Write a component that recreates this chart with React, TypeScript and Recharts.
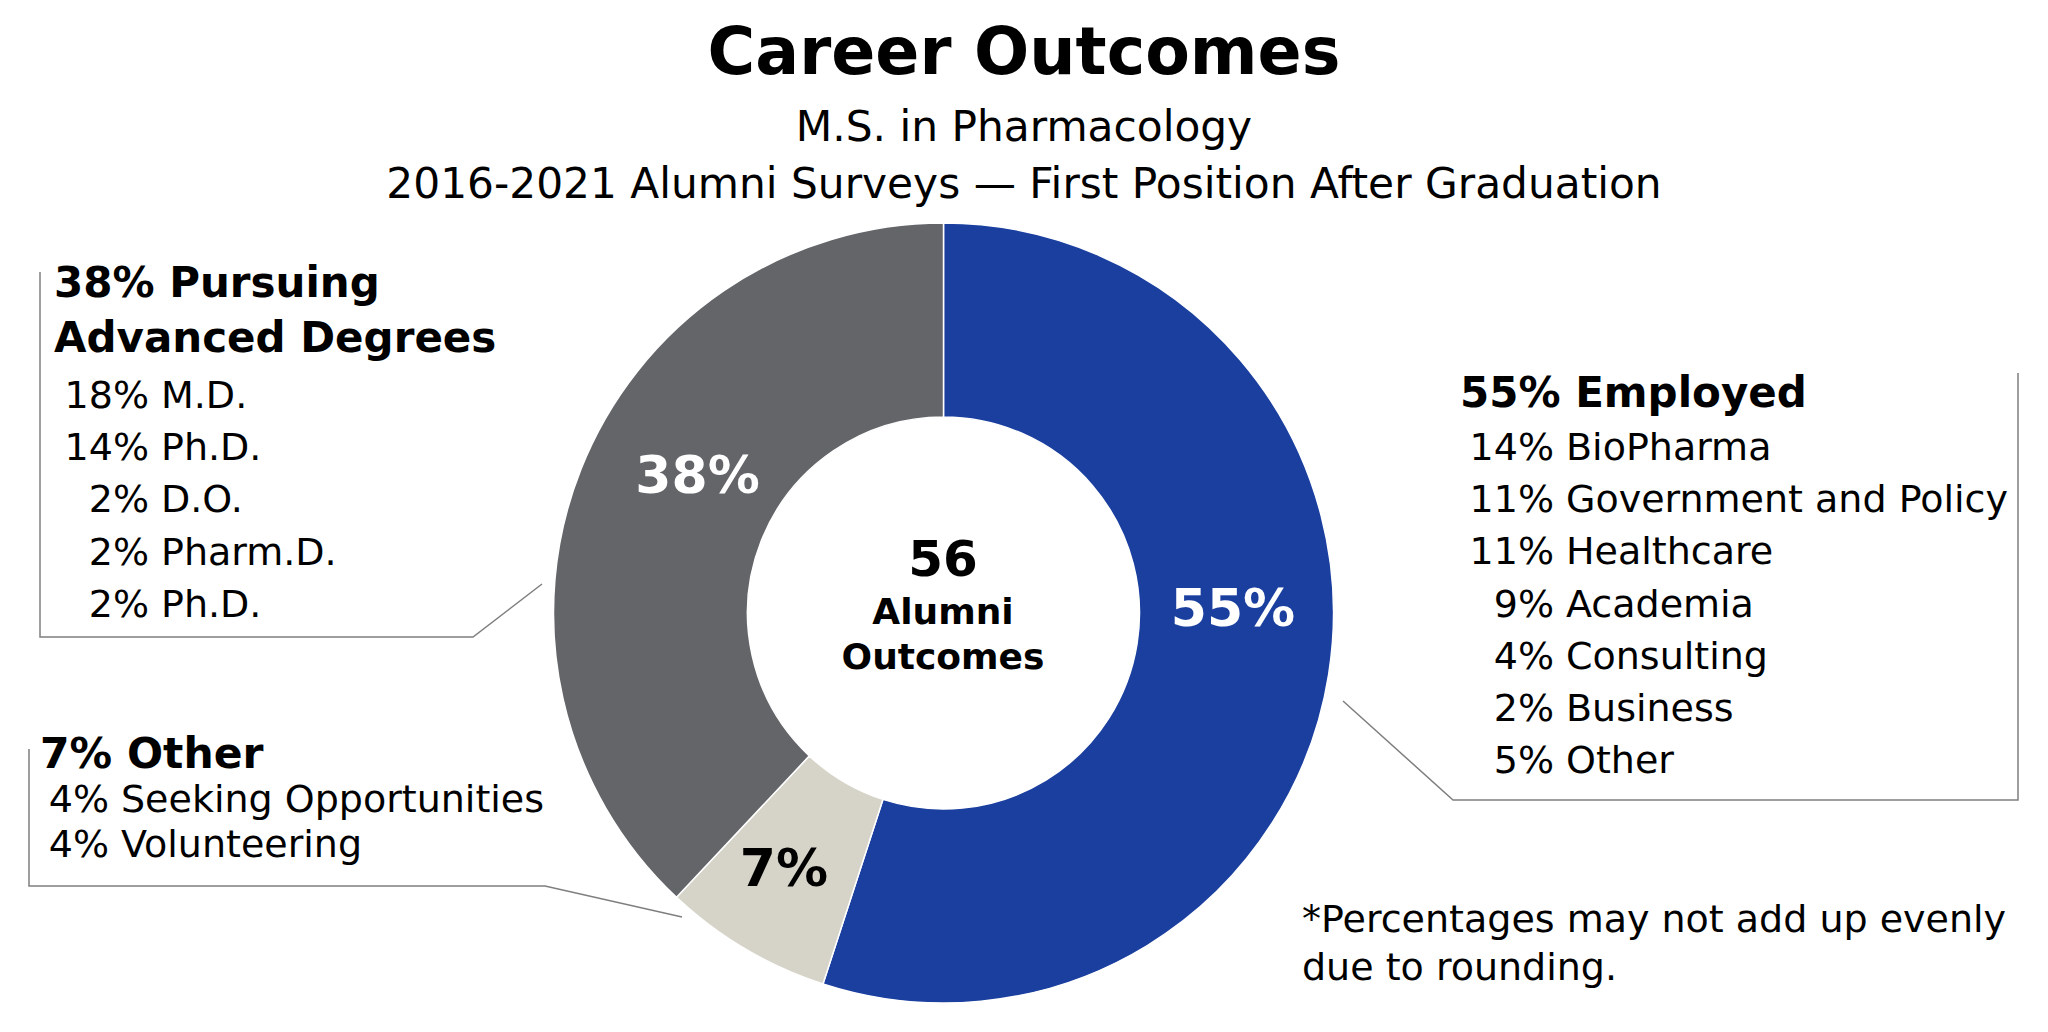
import React from 'react';
import { PieChart, Pie, Cell } from 'recharts';

// outcome groups, clockwise from the top
const categories = ['Employed', 'Other', 'Pursuing Advanced Degrees'];
const shares = [55, 7, 38];
const totalAlumni = 56;

const employedLabels = ['BioPharma', 'Government and Policy', 'Healthcare', 'Academia', 'Consulting', 'Business', 'Other'];
const employedPcts = [14, 11, 11, 9, 4, 2, 5];

const degreeLabels = ['M.D.', 'Ph.D.', 'D.O.', 'Pharm.D.', 'Ph.D.'];
const degreePcts = [18, 14, 2, 2, 2];

const otherLabels = ['Seeking Opportunities', 'Volunteering'];
const otherPcts = [4, 4];

const COLORS = ['#1a3f9f', '#d6d3c8', '#636569'];
const LABEL_FILL = ['#ffffff', '#000000', '#ffffff'];
// small nudges so the labels sit where the original put them
const LABEL_NUDGE = [9.9, -1.4, -7.7];
const LABEL_RADIAL = [-3.5, 8, -11];

const FONT = '"DejaVu Sans", Verdana, sans-serif';
const W = 2048;
const H = 1032;

const pieData = categories.map((name, i) => ({ name, value: shares[i] }));

const renderLabel = (props: any) => {
  const { cx, cy, midAngle, innerRadius, outerRadius, index } = props;
  const RAD = Math.PI / 180;
  const a = (midAngle + LABEL_NUDGE[index]) * RAD;
  const r = (innerRadius + outerRadius) / 2 + LABEL_RADIAL[index];
  const x = cx + r * Math.cos(a);
  const y = cy - r * Math.sin(a);
  return (
    <text
      x={x}
      y={y}
      fill={LABEL_FILL[index]}
      textAnchor="middle"
      dominantBaseline="central"
      fontFamily={FONT}
      fontWeight="bold"
      fontSize={52}
    >
      {`${shares[index]}%`}
    </text>
  );
};

const ItemList = ({ pcts, labels, pctEnd, labelX, y0, step }: any) => (
  <g fontFamily={FONT} fontSize={38} fill="#000">
    {labels.map((label: string, i: number) => (
      <g key={i}>
        <text x={pctEnd} y={y0 + i * step} textAnchor="end">{`${pcts[i]}%`}</text>
        <text x={labelX} y={y0 + i * step}>{label}</text>
      </g>
    ))}
  </g>
);

export default function App() {
  return (
    <div style={{ position: 'absolute', left: 0, top: 0, width: W, height: H, background: '#fff' }}>
      <PieChart width={W} height={H} margin={{ top: 0, right: 0, bottom: 0, left: 0 }}>
        <Pie
          data={pieData}
          dataKey="value"
          nameKey="name"
          cx={943.5}
          cy={613}
          innerRadius={196}
          outerRadius={390}
          startAngle={90}
          endAngle={-270}
          stroke="#ffffff"
          strokeWidth={1.5}
          label={renderLabel}
          labelLine={false}
          isAnimationActive={false}
        >
          {pieData.map((d, i) => (
            <Cell key={d.name} fill={COLORS[i]} />
          ))}
        </Pie>
      </PieChart>

      <svg
        width={W}
        height={H}
        style={{ position: 'absolute', left: 0, top: 0, pointerEvents: 'none' }}
      >
        {/* titles */}
        <text x={1024} y={74} textAnchor="middle" fontFamily={FONT} fontWeight="bold" fontSize={65}>
          Career Outcomes
        </text>
        <text x={1024} y={141} textAnchor="middle" fontFamily={FONT} fontSize={42.3}>
          M.S. in Pharmacology
        </text>
        <text x={1024} y={198} textAnchor="middle" fontFamily={FONT} fontSize={42.3}>
          2016-2021 Alumni Surveys — First Position After Graduation
        </text>

        {/* centre */}
        <g fontFamily={FONT} fontWeight="bold" textAnchor="middle">
          <text x={943} y={576} fontSize={50}>{totalAlumni}</text>
          <text x={943} y={624} fontSize={36}>Alumni</text>
          <text x={943} y={669} fontSize={36}>Outcomes</text>
        </g>

        {/* callout frames */}
        <g fill="none" stroke="#7f7f7f" strokeWidth={1.5}>
          <polyline points="40,272 40,637 473,637 542,584" />
          <polyline points="2018,373 2018,800 1453,800 1343,701" />
          <polyline points="29,749 29,886 545,886 682,917" />
        </g>

        {/* pursuing advanced degrees */}
        <g fontFamily={FONT} fontWeight="bold" fontSize={42}>
          <text x={54} y={297}>{`${shares[2]}% Pursuing`}</text>
          <text x={54} y={352}>Advanced Degrees</text>
        </g>
        <ItemList pcts={degreePcts} labels={degreeLabels} pctEnd={149} labelX={161} y0={408} step={52.2} />

        {/* employed */}
        <text x={1460} y={407} fontFamily={FONT} fontWeight="bold" fontSize={42}>
          {`${shares[0]}% Employed`}
        </text>
        <ItemList pcts={employedPcts} labels={employedLabels} pctEnd={1554} labelX={1566} y0={460} step={52.2} />

        {/* other */}
        <text x={40} y={768} fontFamily={FONT} fontWeight="bold" fontSize={42.5}>
          {`${shares[1]}% Other`}
        </text>
        <ItemList pcts={otherPcts} labels={otherLabels} pctEnd={109} labelX={121} y0={812} step={45} />

        {/* footnote */}
        <g fontFamily={FONT} fontSize={38}>
          <text x={1302} y={932}>*Percentages may not add up evenly</text>
          <text x={1302} y={980}>due to rounding.</text>
        </g>
      </svg>
    </div>
  );
}
